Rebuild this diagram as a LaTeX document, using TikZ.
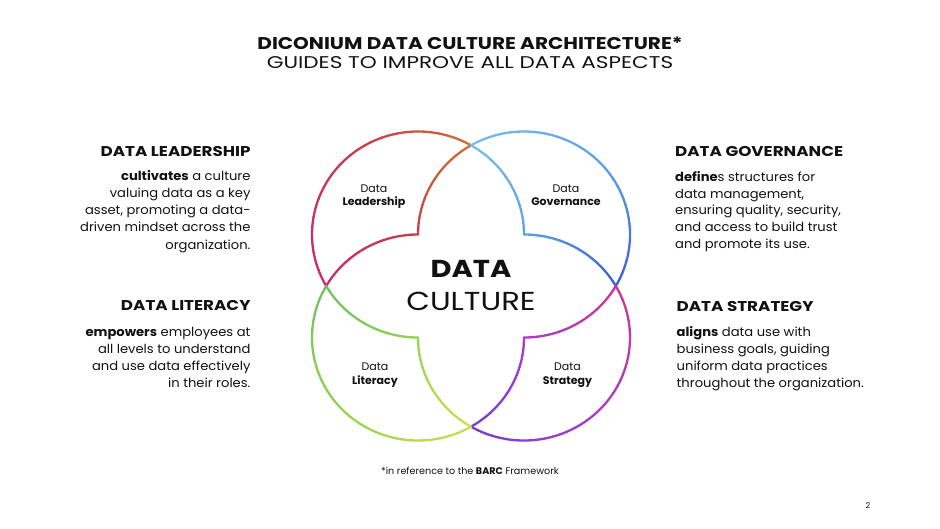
\documentclass[tikz,border=0pt]{standalone}
\usepackage{fontspec}
\setmainfont{Poppins}
\newfontfamily\stretchfont[FakeStretch=1.18]{Poppins}
\newfontfamily\widefont[FakeStretch=1.27]{Poppins}
\newfontfamily\bodyfont[FakeStretch=1.05]{Poppins}

\definecolor{leadOrange}{RGB}{208,112,55}
\definecolor{leadRed}{RGB}{200,62,72}
\definecolor{leadMag}{RGB}{200,42,115}
\definecolor{govLight}{RGB}{120,190,235}
\definecolor{govMid}{RGB}{95,160,228}
\definecolor{govDeep}{RGB}{60,95,210}
\definecolor{strMag}{RGB}{205,55,150}
\definecolor{strPurp}{RGB}{170,60,200}
\definecolor{strViol}{RGB}{120,60,215}
\definecolor{litGreen}{RGB}{110,195,95}
\definecolor{litMid}{RGB}{150,210,85}
\definecolor{litLime}{RGB}{200,225,80}
\definecolor{ink}{RGB}{17,17,17}

\tikzset{
  petal/.style={line width=2.3pt, line cap=round},
  headtxt/.style={inner sep=0pt, text=ink, font=\stretchfont\fontsize{14.2}{17}\selectfont\bfseries},
  bodytxt/.style={inner sep=0pt, text=ink},
  petaltxt/.style={inner sep=0pt, text=ink, font=\fontsize{11}{13}\selectfont},
}

%% one coloured arc of radius 2, cut in short pieces for the colour run
\newcommand\nseg{18}
\newcommand\colarc[6]{%
  \foreach \k in {1,...,\nseg}{%
    \pgfmathsetmacro\aA{(#3)+((#4)-(#3))*(\k-1)/\nseg}%
    \pgfmathsetmacro\aB{(#3)+((#4)-(#3))*\k/\nseg}%
    \pgfmathtruncatemacro\pc{100*(\k-0.5)/\nseg}%
    \draw[petal, color={#6!\pc!#5}]
    plot[domain=\aA:\aB, samples=5] ({(#1)+2*cos(\x)},{(#2)+2*sin(\x)});
  }}

\newcommand\bodyblock[3]{\parbox[t]{240pt}{#1\bodyfont\fontsize{12.5}{#2}\selectfont #3}}

\begin{document}
\begin{tikzpicture}[x=1pt, y=-1pt]

  \useasboundingbox (0,0) rectangle (940,528); %% page

  %% title
  \node[inner sep=0pt, anchor=base, text=ink, font=\stretchfont\fontsize{17}{20}\selectfont\bfseries]
  (title) at (470,49.5) {DICONIUM DATA CULTURE ARCHITECTURE*};
  \node[inner sep=0pt, anchor=base, text=ink, font=\widefont\fontsize{17}{20}\selectfont]
  (subtitle) at (470,68) {GUIDES TO IMPROVE ALL DATA ASPECTS};

  %% the four circles, each drawn on three quarters
  \begin{scope}[shift={(471,286)}, x=53pt, y=51.5pt]
    % leadership
    \colarc{-1}{1}{60}{120}{leadOrange}{leadRed}
    \colarc{-1}{1}{120}{210}{leadRed}{leadMag}
    \colarc{-1}{-1}{150}{90}{leadMag}{leadRed}
    \colarc{1}{1}{180}{120}{leadRed}{leadOrange}
    % governance
    \colarc{1}{1}{120}{40}{govLight}{govMid}
    \colarc{1}{1}{40}{-30}{govMid}{govDeep}
    \colarc{1}{-1}{30}{90}{govDeep}{govMid}
    \colarc{-1}{1}{0}{60}{govMid}{govLight}
    % strategy
    \colarc{1}{-1}{30}{-45}{strMag}{strPurp}
    \colarc{1}{-1}{-45}{-120}{strPurp}{strViol}
    \colarc{-1}{-1}{300}{360}{strViol}{strPurp}
    \colarc{1}{1}{270}{330}{strPurp}{strMag}
    % literacy
    \colarc{-1}{-1}{150}{225}{litGreen}{litMid}
    \colarc{-1}{-1}{225}{300}{litMid}{litLime}
    \colarc{1}{-1}{240}{180}{litLime}{litMid}
    \colarc{-1}{1}{270}{210}{litMid}{litGreen}
  \end{scope}

  %% centre
  \node[inner sep=0pt, anchor=base, text=ink, font=\stretchfont\fontsize{24.5}{30}\selectfont\bfseries]
  (dataword) at (471,277.3) {DATA};
  \node[inner sep=0pt, anchor=base, text=ink, font=\stretchfont\fontsize{26}{30}\selectfont]
  (cultureword) at (471,310.7) {CULTURE};

  %% petal labels
  \node[petaltxt, anchor=base] (leadA) at (374,192.5) {Data};
  \node[petaltxt, anchor=base] (leadB) at (374,205.5) {\bfseries Leadership};
  \node[petaltxt, anchor=base] (govA) at (566,192.5) {Data};
  \node[petaltxt, anchor=base] (govB) at (566,205.5) {\bfseries Governance};
  \node[petaltxt, anchor=base] (litA) at (375,370.5) {Data};
  \node[petaltxt, anchor=base] (litB) at (375,384.5) {\bfseries Literacy};
  \node[petaltxt, anchor=base] (strA) at (567.5,370.5) {Data};
  \node[petaltxt, anchor=base] (strB) at (567.5,384.5) {\bfseries Strategy};

  %% left texts
  \node[headtxt, anchor=base east] (leadhead) at (250.7,156) {DATA LEADERSHIP};
  \node[bodytxt, anchor=base east] (leadbody) at (250.7,180)
  {\bodyblock{\raggedleft}{17.3}{\textbf{cultivates} a culture\\ valuing data as a key\\
  asset, promoting a data-\\ driven mindset across the\\ organization.}};

  \node[headtxt, anchor=base east] (lithead) at (250.7,310.7) {DATA LITERACY};
  \node[bodytxt, anchor=base east] (litbody) at (250.7,336)
  {\bodyblock{\raggedleft}{17.2}{\textbf{empowers} employees at\\ all levels to understand\\
  and use data effectively\\ in their roles.}};

  %% right texts
  \node[headtxt, anchor=base west] (govhead) at (675,156) {DATA GOVERNANCE};
  \node[bodytxt, anchor=base west] (govbody) at (675,181.5)
  {\bodyblock{\raggedright}{16.7}{\textbf{define}s structures for\\ data management,\\
  ensuring quality, security,\\ and access to build trust\\ and promote its use.}};

  \node[headtxt, anchor=base west] (strhead) at (676.5,311.7) {DATA STRATEGY};
  \node[bodytxt, anchor=base west] (strbody) at (676.5,336.7)
  {\bodyblock{\raggedright}{16.8}{\textbf{aligns} data use with\\ business goals, guiding\\
  uniform data practices\\ throughout the organization.}};

  %% footnote and page number
  \node[inner sep=0pt, anchor=base, text=ink, font=\fontsize{9.6}{11}\selectfont]
  (footnote) at (470,474) {*in reference to the \textbf{BARC} Framework};
  \node[inner sep=0pt, anchor=base, text=ink, font=\fontsize{8}{10}\selectfont]
  (pagenum) at (868,508) {2};

\end{tikzpicture}
\end{document}
